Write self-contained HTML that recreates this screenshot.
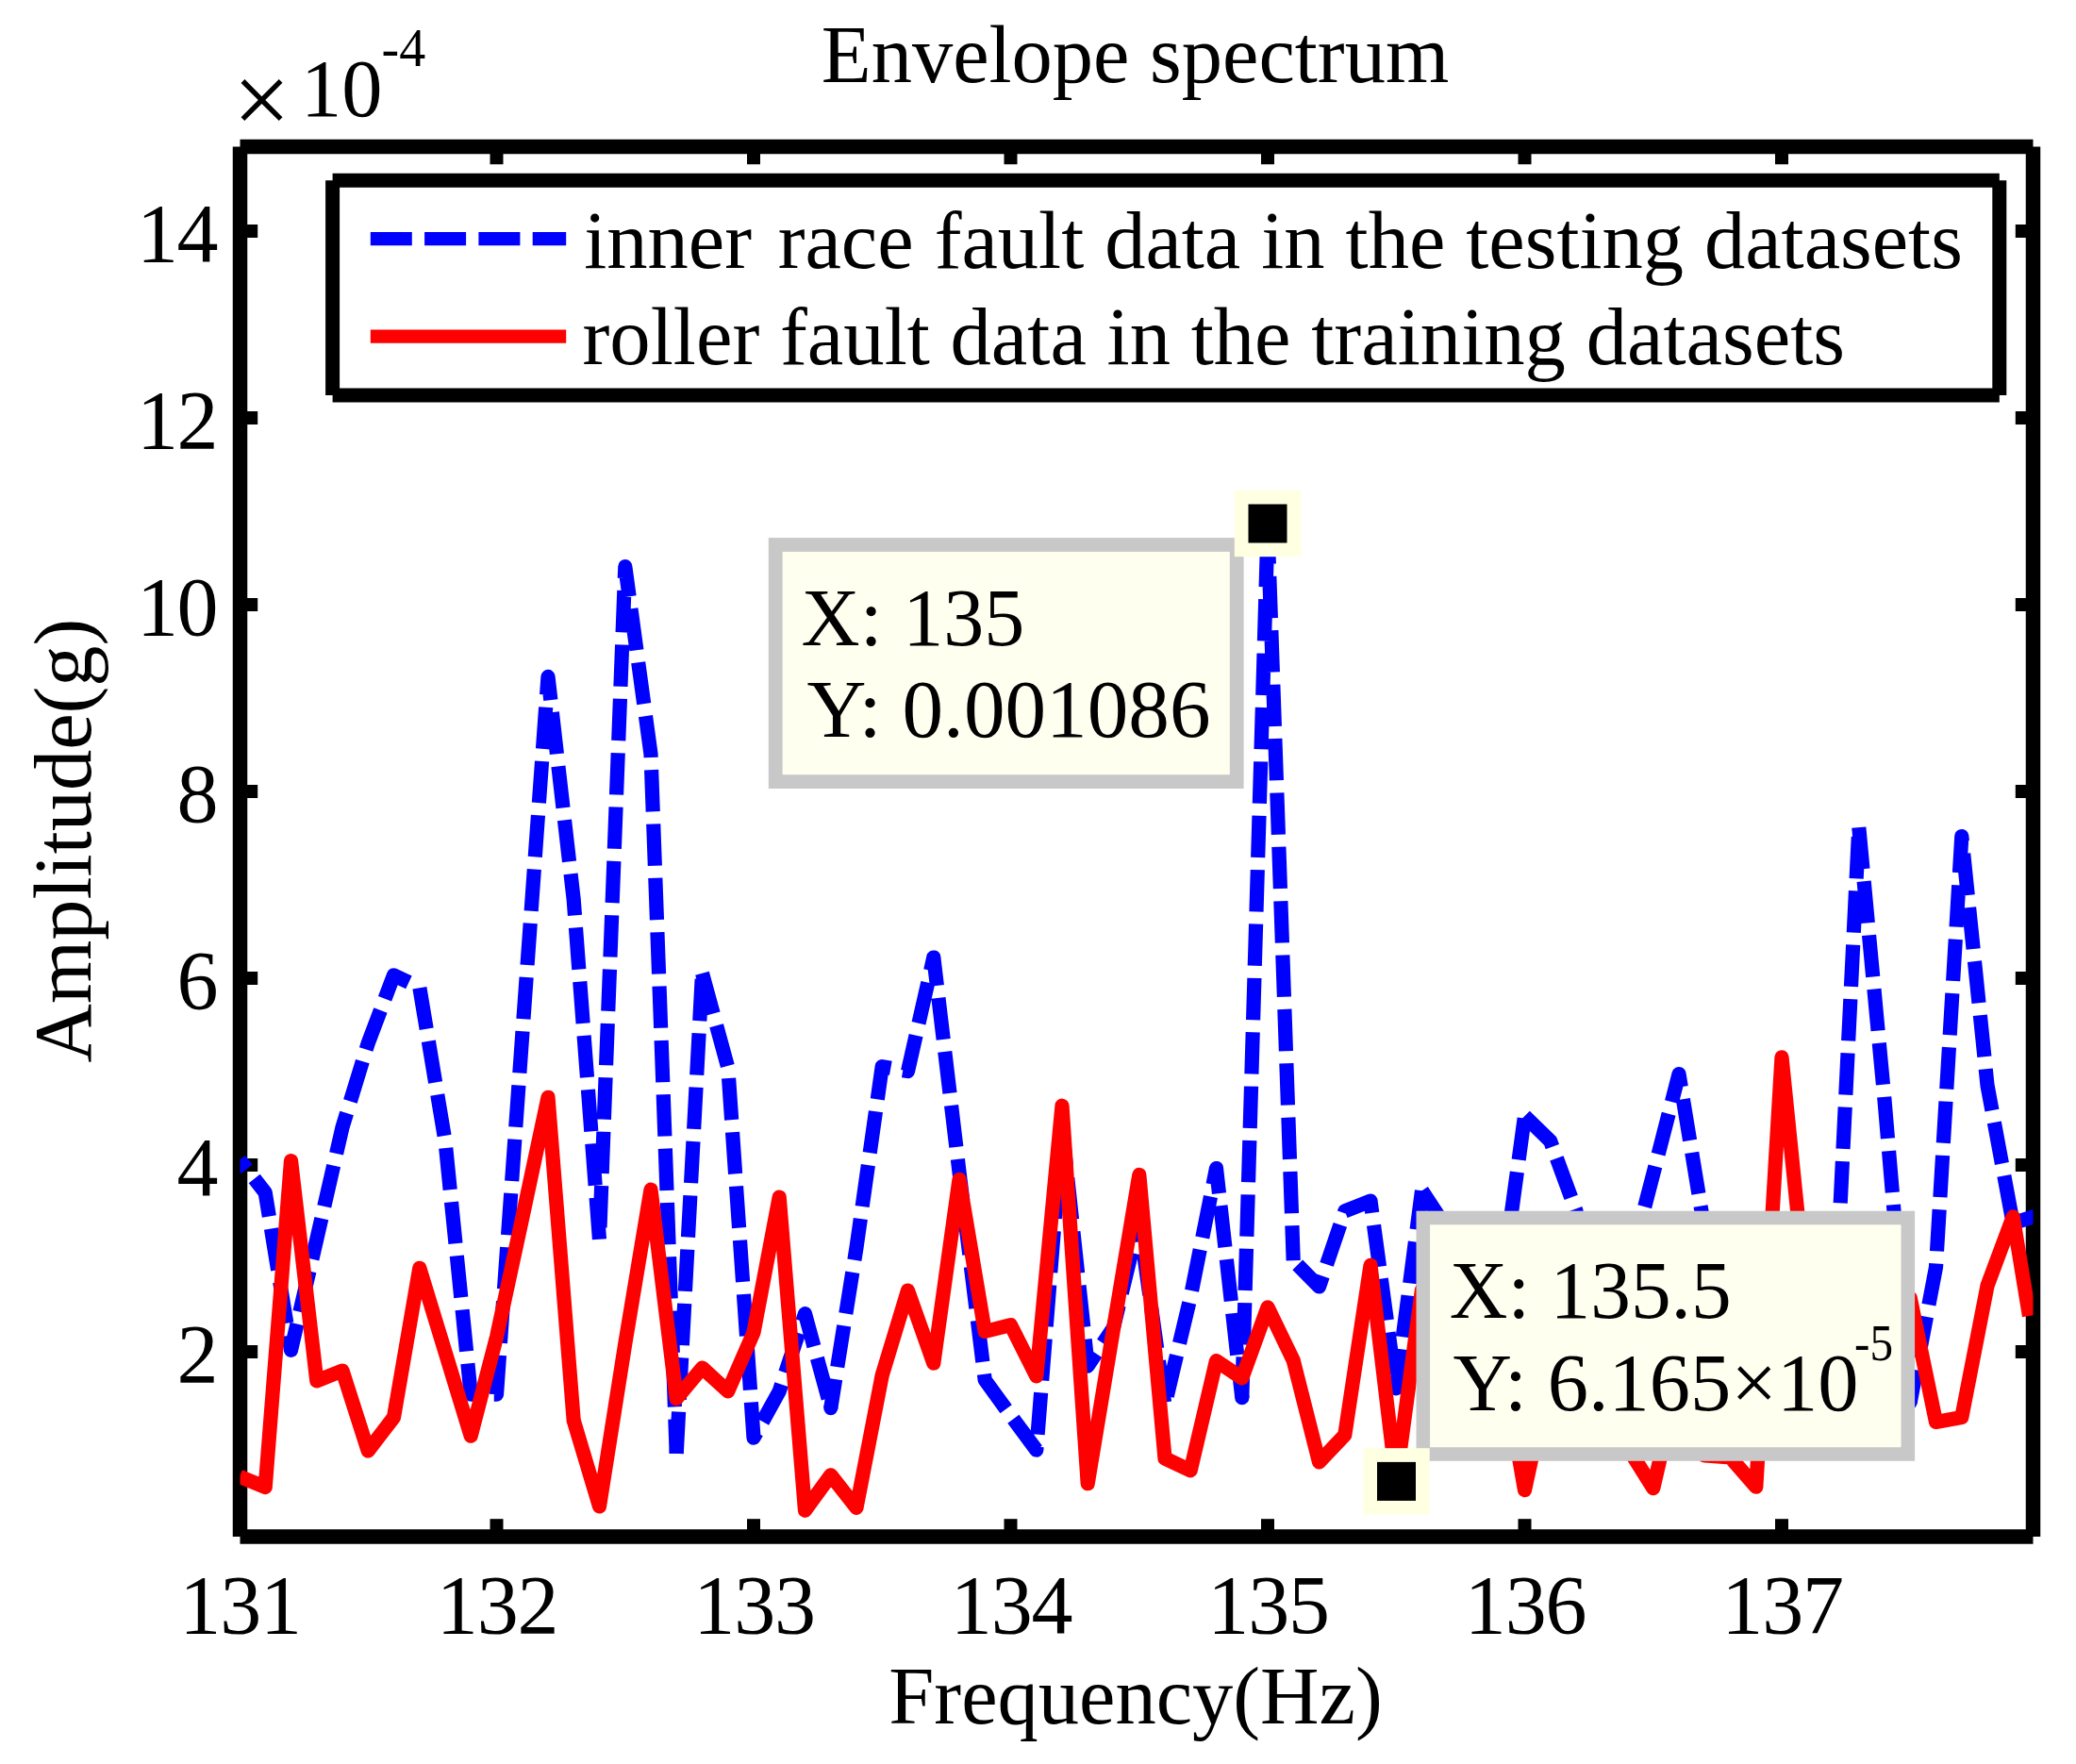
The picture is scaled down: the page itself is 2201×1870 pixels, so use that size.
<!DOCTYPE html>
<html lang="en"><head><meta charset="utf-8"><title>Envelope spectrum</title>
<style>html,body{margin:0;padding:0;background:#fff}svg{display:block}text{font-family:"Liberation Serif", serif;fill:#000}</style></head><body>
<svg width="2201" height="1870" viewBox="0 0 2201 1870">
<rect x="0" y="0" width="2201" height="1870" fill="#fff"/>
<defs><clipPath id="ax"><rect x="254.5" y="155.4" width="1901.0" height="1473.6"/></clipPath></defs>
<path d="M254.5 155.4H2155.5M254.5 1629.0H2155.5M254.5 155.4V1629.0M2155.5 155.4V1629.0" fill="none" stroke="#000" stroke-width="15.5"/>
<g stroke="#000" stroke-width="14.0">
<line x1="526.5" y1="1622.2" x2="526.5" y2="1610.2"/>
<line x1="526.5" y1="162.2" x2="526.5" y2="174.2"/>
<line x1="799.0" y1="1622.2" x2="799.0" y2="1610.2"/>
<line x1="799.0" y1="162.2" x2="799.0" y2="174.2"/>
<line x1="1071.5" y1="1622.2" x2="1071.5" y2="1610.2"/>
<line x1="1071.5" y1="162.2" x2="1071.5" y2="174.2"/>
<line x1="1344.0" y1="1622.2" x2="1344.0" y2="1610.2"/>
<line x1="1344.0" y1="162.2" x2="1344.0" y2="174.2"/>
<line x1="1616.5" y1="1622.2" x2="1616.5" y2="1610.2"/>
<line x1="1616.5" y1="162.2" x2="1616.5" y2="174.2"/>
<line x1="1889.0" y1="1622.2" x2="1889.0" y2="1610.2"/>
<line x1="1889.0" y1="162.2" x2="1889.0" y2="174.2"/>
<line x1="261.2" y1="1433.0" x2="273.2" y2="1433.0"/>
<line x1="2148.8" y1="1433.0" x2="2136.8" y2="1433.0"/>
<line x1="261.2" y1="1235.0" x2="273.2" y2="1235.0"/>
<line x1="2148.8" y1="1235.0" x2="2136.8" y2="1235.0"/>
<line x1="261.2" y1="1037.0" x2="273.2" y2="1037.0"/>
<line x1="2148.8" y1="1037.0" x2="2136.8" y2="1037.0"/>
<line x1="261.2" y1="839.0" x2="273.2" y2="839.0"/>
<line x1="2148.8" y1="839.0" x2="2136.8" y2="839.0"/>
<line x1="261.2" y1="641.0" x2="273.2" y2="641.0"/>
<line x1="2148.8" y1="641.0" x2="2136.8" y2="641.0"/>
<line x1="261.2" y1="443.0" x2="273.2" y2="443.0"/>
<line x1="2148.8" y1="443.0" x2="2136.8" y2="443.0"/>
<line x1="261.2" y1="245.0" x2="273.2" y2="245.0"/>
<line x1="2148.8" y1="245.0" x2="2136.8" y2="245.0"/>
</g>
<g clip-path="url(#ax)" fill="none" stroke-linejoin="round">
<polyline points="254.0,1229.6 281.2,1264.2 308.5,1431.3 335.8,1313.6 363.0,1195.0 390.2,1106.0 417.5,1033.8 444.8,1046.6 472.0,1209.8 499.2,1478.2 526.5,1478.2 553.8,1096.1 581.0,717.4 608.2,953.7 635.5,1314.1 662.8,600.7 690.0,799.4 717.2,1540.8" stroke="#0000ff" stroke-width="15.2" stroke-dasharray="44.3 13.1" stroke-dashoffset="32.0"/>
<polyline points="717.2,1540.8 744.5,1031.8" stroke="#0000ff" stroke-width="15.2" stroke-dasharray="44.3 13.1" stroke-dashoffset="0.0"/>
<polyline points="744.5,1031.8 771.8,1131.7 799.0,1524.2 826.2,1474.8 853.5,1392.7 880.8,1492.6" stroke="#0000ff" stroke-width="15.2" stroke-dasharray="44.3 13.1" stroke-dashoffset="0.0"/>
<polyline points="880.8,1492.6 908.0,1322.5 935.2,1130.7 962.5,1135.6 989.8,1015.0 1017.0,1242.4 1044.2,1462.9 1071.5,1500.5 1098.8,1537.1 1126.0,1195.0" stroke="#0000ff" stroke-width="15.2" stroke-dasharray="44.3 13.1" stroke-dashoffset="13.4"/>
<circle cx="880.8" cy="1492.6" r="7.6" fill="#0000ff" stroke="none"/>
<polyline points="1126.0,1195.0 1153.2,1448.1 1180.5,1407.5 1207.8,1293.8 1235.0,1489.6 1262.2,1374.9 1289.5,1238.5 1316.8,1481.7" stroke="#0000ff" stroke-width="15.2" stroke-dasharray="44.3 13.1" stroke-dashoffset="3.4"/>
<polyline points="1316.8,1481.7 1344.0,559.2 1371.2,1336.3" stroke="#0000ff" stroke-width="15.2" stroke-dasharray="44.3 13.1" stroke-dashoffset="1.1"/>
<circle cx="1316.8" cy="1481.7" r="7.6" fill="#0000ff" stroke="none"/>
<polyline points="1371.2,1336.3 1398.5,1364.0 1425.8,1283.9 1453.0,1273.1 1480.2,1471.8 1507.5,1262.2" stroke="#0000ff" stroke-width="15.2" stroke-dasharray="44.3 13.1" stroke-dashoffset="50.9"/>
<polyline points="1507.5,1262.2 1534.8,1303.7 1562.0,1343.3" stroke="#0000ff" stroke-width="15.2" stroke-dasharray="44.3 13.1" stroke-dashoffset="0.0"/>
<polyline points="1562.0,1343.3 1589.2,1382.8 1616.5,1183.1" stroke="#0000ff" stroke-width="15.2" stroke-dasharray="44.3 13.1" stroke-dashoffset="26.9"/>
<polyline points="1616.5,1183.1 1643.8,1209.8 1671.0,1283.9 1698.2,1402.6" stroke="#0000ff" stroke-width="15.2" stroke-dasharray="44.3 13.1" stroke-dashoffset="0.0"/>
<polyline points="1698.2,1402.6 1725.5,1349.2 1752.8,1244.4 1780.0,1138.6 1807.2,1303.7 1834.5,1412.5 1861.8,1452.0" stroke="#0000ff" stroke-width="15.2" stroke-dasharray="44.3 13.1" stroke-dashoffset="39.9"/>
<polyline points="1861.8,1452.0 1889.0,1372.9 1916.2,1392.7 1943.5,1432.2 1970.8,877.1" stroke="#0000ff" stroke-width="15.2" stroke-dasharray="44.3 13.1" stroke-dashoffset="22.0"/>
<polyline points="1970.8,877.1 1998.0,1166.3 2025.2,1486.6" stroke="#0000ff" stroke-width="15.2" stroke-dasharray="44.3 13.1" stroke-dashoffset="0.0"/>
<polyline points="2025.2,1486.6 2052.5,1343.3 2079.8,886.5 2107.0,1150.5 2134.2,1296.8" stroke="#0000ff" stroke-width="15.2" stroke-dasharray="44.3 13.1" stroke-dashoffset="9.4"/>
<circle cx="2025.2" cy="1486.6" r="7.6" fill="#0000ff" stroke="none"/>
<polyline points="2134.2,1296.8 2161.5,1287.9" stroke="#0000ff" stroke-width="15.2" stroke-dasharray="44.3 13.1" stroke-dashoffset="0.0"/>
<polyline points="254.0,1565.3 281.2,1576.6 308.5,1230.5 335.8,1463.9 363.0,1453.0 390.2,1538.0 417.5,1502.5 444.8,1344.3 472.0,1433.2 499.2,1522.2 526.5,1417.4 553.8,1290.9 581.0,1163.3 608.2,1505.8 635.5,1596.9 662.8,1424.3 690.0,1261.2 717.2,1482.7 744.5,1450.0 771.8,1474.8 799.0,1412.5 826.2,1269.1 853.5,1601.3 880.8,1563.8 908.0,1598.4 935.2,1458.0 962.5,1368.0 989.8,1445.1 1017.0,1250.3 1044.2,1411.5 1071.5,1404.6 1098.8,1458.9 1126.0,1172.2 1153.2,1572.7 1180.5,1408.5 1207.8,1245.4 1235.0,1546.0 1262.2,1558.8 1289.5,1442.6 1316.8,1460.9 1344.0,1385.8 1371.2,1442.1 1398.5,1549.9 1425.8,1521.2 1453.0,1341.3 1480.2,1569.0 1507.5,1367.0 1534.8,1432.2 1562.0,1353.2 1589.2,1423.4 1616.5,1579.6 1643.8,1454.0 1671.0,1382.8 1698.2,1471.8 1725.5,1534.1 1752.8,1577.6 1780.0,1459.9 1807.2,1543.0 1834.5,1545.0 1861.8,1576.2 1889.0,1120.8 1916.2,1387.8 1943.5,1432.2 1970.8,1481.7 1998.0,1412.5 2025.2,1375.9 2052.5,1507.4 2079.8,1502.5 2107.0,1363.0 2134.2,1289.9 2151.5,1395.0" stroke="#ff0000" stroke-width="15.2"/>
</g>
<rect x="352.6" y="191.3" width="1767.2" height="227.7" fill="#fff"/>
<path d="M352.6 191.3H2119.8M352.6 419H2119.8M352.6 191.3V419M2119.8 191.3V419" fill="none" stroke="#000" stroke-width="15"/>
<line x1="392.8" y1="253.2" x2="600.2" y2="253.2" stroke="#0000ff" stroke-width="14.3" stroke-dasharray="44 13.3"/>
<line x1="392.8" y1="356.6" x2="600.2" y2="356.6" stroke="#ff0000" stroke-width="14.3"/>
<text x="619.3" y="283.7" font-size="86.5" word-spacing="0.4">inner<tspan dx="5.6"> race fault data in the testing datasets</tspan></text>
<text x="617.5" y="385.9" font-size="86.5" textLength="1338.6" lengthAdjust="spacingAndGlyphs">roller fault data in the training datasets</text>
<rect x="822.2" y="577.5" width="489.0" height="251.1" fill="#fffff0" stroke="#c8c8c8" stroke-width="14.8"/>
<text x="849.5" y="684" font-size="86.5" textLength="236.8" lengthAdjust="spacingAndGlyphs">X: 135</text>
<text x="855.5" y="781" font-size="86.5" textLength="428" lengthAdjust="spacingAndGlyphs">Y: 0.001086</text>
<rect x="1508.8" y="1291" width="514.0" height="250.5" fill="#fffff0" stroke="#c8c8c8" stroke-width="14.6"/>
<text x="1536.7" y="1397" font-size="86.5" textLength="299" lengthAdjust="spacingAndGlyphs">X: 135.5</text>
<text x="1540.5" y="1494.5" font-size="86.5">Y: 6.165×10</text>
<text x="1966" y="1442" font-size="54" textLength="41" lengthAdjust="spacingAndGlyphs">-5</text>
<rect x="1308.8" y="519.8" width="70.4" height="70.4" fill="#ffffe1"/>
<rect x="1323.5" y="534.5" width="41" height="41" fill="#000"/>
<rect x="1445.3" y="1535.2" width="70.4" height="70.4" fill="#ffffe1"/>
<rect x="1460.0" y="1549.9" width="41" height="41" fill="#000"/>
<text x="1203.5" y="87.2" font-size="86.5" text-anchor="middle">Envelope spectrum</text>
<text x="1204" y="1827.4" font-size="86.5" text-anchor="middle">Frequency(Hz)</text>
<text transform="translate(96.2 891) rotate(-90)" font-size="86.5" text-anchor="middle">Amplitude(g)</text>
<text x="247" y="142.2" font-size="108">×</text>
<text x="318.9" y="123.2" font-size="86.5">10</text>
<text x="404.5" y="69.5" font-size="56">-4</text>
<text x="255.2" y="1730.5" font-size="88" text-anchor="middle" textLength="129.8" lengthAdjust="spacing">131</text>
<text x="527.7" y="1730.5" font-size="88" text-anchor="middle" textLength="129.8" lengthAdjust="spacing">132</text>
<text x="800.2" y="1730.5" font-size="88" text-anchor="middle" textLength="129.8" lengthAdjust="spacing">133</text>
<text x="1072.7" y="1730.5" font-size="88" text-anchor="middle" textLength="129.8" lengthAdjust="spacing">134</text>
<text x="1345.2" y="1730.5" font-size="88" text-anchor="middle" textLength="129.8" lengthAdjust="spacing">135</text>
<text x="1617.7" y="1730.5" font-size="88" text-anchor="middle" textLength="129.8" lengthAdjust="spacing">136</text>
<text x="1890.2" y="1730.5" font-size="88" text-anchor="middle" textLength="129.8" lengthAdjust="spacing">137</text>
<text x="231.5" y="1464.5" font-size="88" text-anchor="end" textLength="43.2" lengthAdjust="spacing">2</text>
<text x="231.5" y="1266.5" font-size="88" text-anchor="end" textLength="43.2" lengthAdjust="spacing">4</text>
<text x="231.5" y="1068.5" font-size="88" text-anchor="end" textLength="43.2" lengthAdjust="spacing">6</text>
<text x="231.5" y="870.5" font-size="88" text-anchor="end" textLength="43.2" lengthAdjust="spacing">8</text>
<text x="231.5" y="672.5" font-size="88" text-anchor="end" textLength="86.5" lengthAdjust="spacing">10</text>
<text x="231.5" y="474.5" font-size="88" text-anchor="end" textLength="86.5" lengthAdjust="spacing">12</text>
<text x="231.5" y="276.5" font-size="88" text-anchor="end" textLength="86.5" lengthAdjust="spacing">14</text>
</svg></body></html>
